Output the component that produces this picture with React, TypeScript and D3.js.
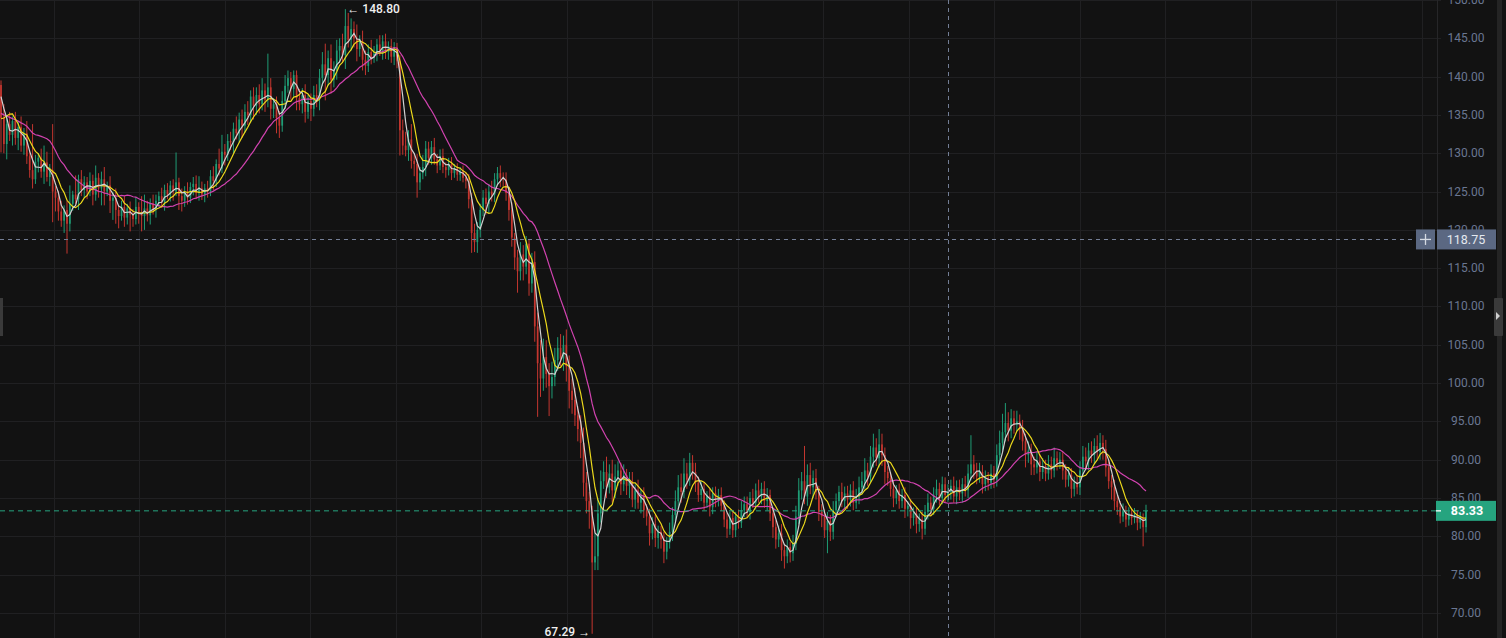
import React from "react";
import * as d3 from "d3";

const W = 1506;
const H = 638;

// closes before the first visible bar (only feed the moving averages)
const warmupCloses = [
  137.0, 136.2, 137.4, 135.6, 136.8, 135.8, 136.4, 135.2, 136.6, 136.0,
  133.8, 131.2, 130.4, 131.6, 130.5, 134.0, 137.4, 138.6, 138.9,
];

const closes = [
  134.6, 131.2, 133.8, 132.4, 134.2, 132.0, 133.4, 131.0, 132.6, 129.6,
  127.8, 126.6, 128.9, 129.4, 127.6, 128.8, 126.9, 127.8, 125.0, 124.2,
  122.4, 121.2, 122.6, 120.8, 123.4, 124.6, 124.0, 126.6, 125.2, 126.2,
  125.0, 126.4, 124.6, 126.8, 125.4, 126.6, 125.0, 125.8, 123.8, 124.2,
  122.6, 121.8, 123.0, 121.6, 122.8, 122.0, 121.4, 123.0, 122.2, 121.8,
  122.8, 121.9, 123.4, 122.6, 123.8, 124.4, 123.6, 125.2, 124.6, 125.8,
  125.0, 126.2, 124.4, 123.8, 125.0, 124.2, 125.6, 126.0, 124.8, 125.4,
  124.6, 125.4, 125.0, 127.0, 126.4, 128.6, 128.0, 130.2, 129.8, 131.6,
  131.4, 133.2, 132.6, 134.4, 133.6, 135.4, 135.0, 137.4, 136.2, 137.6,
  136.4, 138.2, 137.0, 138.6, 135.8, 136.4, 134.6, 133.6, 136.8, 138.8,
  139.8, 138.4, 140.2, 137.2, 136.4, 137.6, 135.4, 136.8, 135.8, 137.6,
  137.2, 139.8, 141.6, 140.2, 142.4, 139.6, 140.8, 143.4, 144.0, 142.8,
  146.6, 144.8, 146.2, 145.0, 143.6, 144.6, 142.2, 141.4, 143.2, 142.6,
  143.0, 144.2, 143.4, 144.6, 143.2, 144.0, 142.6, 143.8, 142.0, 133.0,
  131.0, 130.4, 131.8, 129.0, 128.6, 126.2, 127.4, 128.2, 130.6, 129.4,
  130.8, 129.2, 128.4, 129.6, 128.2, 127.8, 128.6, 127.4, 128.0, 127.2,
  127.6, 126.8, 126.4, 124.0, 119.6, 118.4, 120.0, 122.6, 124.2, 123.4,
  125.0, 124.6, 126.6, 127.4, 126.8, 126.6, 124.8, 122.6, 119.0, 116.4,
  114.6, 116.8, 115.2, 118.2, 113.0, 115.8, 107.4, 102.6, 100.6, 103.4,
  101.2, 99.6, 100.8, 103.0, 104.6, 103.2, 105.0, 102.2, 99.0, 97.8,
  95.8, 94.0, 92.2, 87.0, 84.6, 83.2, 76.6, 77.4, 83.0, 87.2,
  88.4, 86.4, 88.2, 86.0, 87.8, 88.6, 86.8, 88.0, 86.6, 87.2,
  84.8, 86.0, 84.4, 85.2, 83.4, 82.6, 80.4, 81.6, 79.8, 80.6,
  79.6, 78.0, 79.2, 80.6, 82.8, 84.6, 86.4, 85.8, 88.2, 87.4,
  89.6, 88.4, 87.0, 85.4, 86.2, 84.4, 85.2, 83.8, 85.6, 84.8,
  85.4, 84.0, 82.2, 81.0, 82.4, 80.8, 82.6, 81.8, 83.4, 84.2,
  83.2, 85.0, 84.4, 86.0, 85.2, 86.2, 84.6, 85.4, 83.0, 81.2,
  79.6, 80.4, 78.2, 77.4, 78.6, 77.8, 79.0, 82.6, 86.0, 87.2,
  85.2, 88.0, 86.4, 87.6, 85.8, 83.2, 82.6, 80.8, 82.0, 80.6,
  83.4, 84.6, 85.8, 84.6, 85.6, 84.8, 86.0, 84.4, 85.2, 86.4,
  87.2, 88.6, 87.8, 90.4, 91.6, 90.2, 92.0, 90.6, 88.4, 87.6,
  86.2, 85.0, 86.0, 84.6, 85.4, 83.6, 84.0, 82.4, 83.0, 81.6,
  82.2, 81.0, 83.2, 84.4, 83.6, 85.4, 86.2, 85.0, 86.8, 85.4,
  85.8, 86.6, 85.2, 86.4, 85.6, 86.8, 86.0, 88.2, 89.4, 88.6,
  87.8, 88.4, 86.8, 87.6, 87.0, 88.2, 87.4, 90.6, 92.2, 93.6,
  94.8, 93.8, 95.4, 94.6, 95.0, 94.0, 92.4, 90.6, 91.2, 89.4,
  89.0, 89.8, 88.4, 89.2, 88.2, 89.4, 88.6, 90.2, 89.6, 90.0,
  88.6, 87.4, 88.0, 86.2, 87.0, 86.4, 88.6, 90.4, 89.8, 91.2,
  90.6, 91.8, 91.0, 92.2, 91.4, 89.0, 87.2, 86.4, 84.6, 83.8,
  82.6, 83.4, 82.2, 83.0, 82.4, 82.8, 81.8, 82.4, 81.2, 83.33,
];

const upperWicks = [
  0.6, 1.8, 0.8, 1.6, 0.6, 1.2, 0.8, 1.4, 0.7, 1.6,
  0.8, 6.0, 0.9, 0.6, 1.2, 2.2, 1.4, 0.8, 6.0, 0.7,
  0.9, 1.4, 0.6, 1.2, 2.4, 0.5, 2.5, 0.6, 1.2, 0.8,
  0.7, 1.1, 0.8, 1.6, 0.6, 1.0, 1.6, 0.5, 1.2, 0.8,
  1.2, 0.6, 0.8, 1.4, 0.6, 0.9, 0.7, 1.3, 0.6, 2.2,
  1.8, 1.0, 0.7, 1.2, 0.8, 0.6, 1.1, 0.7, 0.9, 0.6,
  0.8, 3.9, 0.6, 1.0, 0.7, 1.2, 0.6, 0.9, 1.1, 1.6,
  0.9, 0.6, 1.0, 0.8, 1.3, 0.6, 2.0, 2.2, 1.0, 0.9,
  1.2, 0.8, 1.6, 0.9, 1.3, 1.0, 1.4, 0.8, 1.2, 1.0,
  1.4, 1.6, 0.9, 4.4, 1.2, 0.8, 1.0, 0.9, 1.3, 1.4,
  1.0, 0.8, 0.6, 0.6, 1.2, 0.9, 1.4, 0.8, 1.0, 1.2,
  1.4, 1.2, 1.6, 2.7, 1.0, 1.8, 1.2, 1.4, 1.0, 1.6,
  2.2, 1.7, 1.4, 1.0, 1.8, 0.8, 1.4, 1.2, 1.0, 1.6,
  1.0, 0.7, 1.2, 0.8, 1.0, 0.6, 0.9, 0.7, 0.6, 0.8,
  1.4, 1.8, 1.2, 2.0, 1.0, 1.3, 0.8, 1.6, 1.0, 0.9,
  0.8, 1.2, 0.7, 0.9, 1.0, 0.6, 0.8, 0.9, 0.6, 0.7,
  0.6, 0.8, 0.7, 0.9, 0.8, 1.2, 1.0, 0.8, 1.0, 1.2,
  1.0, 1.4, 0.8, 0.8, 1.0, 0.7, 0.9, 0.8, 1.0, 0.6,
  1.0, 1.6, 1.2, 1.0, 0.6, 1.2, 1.4, 1.8, 3.0, 2.4,
  2.2, 1.4, 2.0, 1.6, 1.4, 1.8, 1.2, 2.0, 1.4, 1.6,
  1.6, 1.2, 1.8, 2.0, 1.4, 1.2, 0.8, 3.0, 2.0, 1.4,
  1.4, 2.0, 1.2, 1.8, 1.6, 1.2, 1.0, 1.4, 0.8, 1.2,
  1.2, 0.8, 1.4, 1.0, 1.2, 0.8, 1.0, 0.9, 1.2, 0.8,
  0.8, 1.0, 0.7, 1.2, 1.0, 1.4, 1.6, 1.8, 2.0, 1.4,
  1.3, 1.0, 1.2, 0.8, 1.0, 0.9, 0.7, 1.0, 0.8, 0.9,
  0.8, 1.0, 0.7, 0.9, 0.8, 1.0, 0.6, 0.9, 1.2, 1.0,
  1.0, 0.8, 1.2, 0.9, 1.4, 0.8, 1.0, 0.9, 0.7, 0.8,
  0.9, 1.0, 1.2, 0.8, 1.0, 0.7, 1.2, 1.4, 1.6, 1.2,
  4.6, 1.4, 1.6, 1.0, 1.2, 0.8, 1.0, 0.9, 1.2, 0.8,
  1.2, 1.0, 0.8, 1.2, 0.9, 1.0, 0.8, 1.2, 1.0, 1.4,
  1.2, 1.6, 1.0, 1.4, 1.8, 1.2, 2.0, 1.4, 1.0, 0.8,
  0.8, 1.0, 0.7, 0.9, 0.8, 1.0, 0.6, 0.9, 0.8, 0.7,
  0.8, 1.0, 0.9, 1.2, 0.8, 1.0, 1.2, 0.8, 1.0, 0.9,
  1.0, 0.8, 1.2, 0.9, 1.0, 0.8, 1.1, 1.2, 3.8, 1.2,
  1.0, 1.2, 0.9, 1.0, 0.8, 1.2, 1.0, 1.4, 1.6, 2.4,
  2.6, 1.4, 1.2, 1.0, 1.4, 0.9, 1.2, 1.0, 1.2, 0.9,
  1.0, 1.2, 0.9, 1.0, 0.8, 1.2, 1.0, 1.4, 0.9, 1.0,
  1.0, 0.8, 1.0, 0.9, 0.8, 1.0, 1.2, 1.4, 1.2, 1.0,
  1.2, 1.0, 1.4, 1.3, 1.0, 1.2, 1.0, 0.8, 1.0, 0.8,
  0.8, 0.9, 0.6, 0.8, 0.7, 0.9, 0.6, 0.8, 0.6, 0.8,
];

const lowerWicks = [
  4.5, 1.2, 2.0, 0.8, 1.4, 0.9, 1.6, 0.8, 1.2, 1.0,
  1.0, 1.2, 0.6, 1.4, 0.8, 1.6, 0.6, 1.2, 4.0, 1.8,
  1.2, 0.8, 1.6, 3.9, 1.0, 0.9, 0.6, 1.4, 0.8, 1.0,
  1.0, 0.6, 1.4, 0.8, 1.2, 2.2, 1.8, 0.6, 1.6, 2.5,
  1.8, 1.6, 0.6, 1.2, 0.9, 2.2, 1.0, 0.7, 1.4, 2.0,
  1.8, 0.8, 1.2, 0.6, 1.0, 0.8, 0.7, 1.1, 0.6, 0.9,
  1.2, 0.6, 1.8, 1.4, 0.8, 0.9, 0.7, 1.1, 0.8, 1.0,
  0.7, 1.0, 0.8, 0.6, 1.2, 0.8, 0.9, 0.6, 1.4, 0.8,
  1.0, 1.4, 0.8, 1.2, 1.6, 0.9, 1.3, 1.0, 1.8, 1.2,
  1.2, 0.8, 1.6, 1.0, 1.4, 1.2, 2.0, 1.6, 0.8, 1.0,
  0.9, 1.4, 1.0, 1.6, 0.8, 1.2, 1.4, 0.9, 1.6, 1.0,
  1.2, 1.6, 1.0, 3.3, 1.4, 1.8, 1.0, 1.2, 1.6, 1.0,
  1.8, 1.0, 1.4, 1.2, 1.6, 1.0, 1.4, 1.2, 0.8, 1.0,
  0.8, 1.0, 0.7, 1.2, 0.9, 1.0, 0.8, 1.1, 0.9, 3.3,
  1.2, 0.8, 1.4, 1.0, 1.6, 2.0, 1.0, 0.8, 1.2, 0.9,
  0.9, 0.7, 1.0, 0.6, 0.8, 1.0, 0.7, 0.9, 0.6, 0.8,
  0.8, 0.6, 1.0, 1.2, 2.6, 1.3, 1.4, 1.0, 0.8, 1.4,
  1.2, 0.9, 1.0, 0.8, 1.2, 0.9, 1.0, 1.4, 1.2, 1.6,
  2.8, 1.2, 1.8, 1.0, 1.6, 1.2, 2.0, 7.0, 2.4, 1.6,
  1.8, 3.9, 1.6, 1.2, 1.4, 1.0, 1.6, 2.0, 2.3, 1.8,
  1.4, 1.6, 2.0, 1.8, 1.6, 2.2, 9.31, 1.0, 1.8, 1.2,
  1.0, 1.4, 0.8, 1.6, 1.0, 1.2, 1.4, 0.9, 1.2, 1.6,
  1.0, 1.2, 0.8, 1.4, 1.0, 1.2, 1.6, 0.8, 1.2, 1.4,
  1.2, 1.5, 1.0, 0.8, 1.2, 0.9, 1.0, 1.4, 0.8, 1.2,
  0.8, 1.0, 1.2, 0.9, 0.8, 1.0, 0.7, 1.2, 0.9, 1.0,
  0.9, 0.7, 1.0, 1.2, 0.8, 1.0, 0.9, 0.8, 0.7, 0.9,
  0.8, 1.0, 0.7, 0.9, 0.8, 1.0, 0.9, 1.2, 1.0, 1.4,
  1.2, 1.0, 1.4, 1.6, 0.9, 1.2, 1.0, 0.8, 1.0, 1.2,
  1.0, 1.2, 0.9, 1.4, 1.0, 1.2, 1.4, 1.0, 3.0, 1.2,
  1.0, 0.9, 1.2, 0.8, 1.0, 1.2, 0.9, 1.0, 0.8, 1.0,
  0.9, 1.0, 1.2, 0.8, 1.4, 1.0, 1.2, 1.4, 1.6, 1.0,
  1.0, 1.2, 0.8, 1.0, 0.9, 1.2, 1.0, 1.4, 1.0, 1.2,
  1.0, 1.4, 0.8, 1.0, 0.9, 0.8, 1.0, 0.9, 0.8, 1.0,
  0.9, 1.0, 0.8, 1.0, 0.9, 1.2, 0.8, 1.0, 0.9, 1.1,
  1.0, 0.8, 1.2, 0.9, 1.0, 0.8, 1.1, 0.9, 1.2, 1.0,
  1.2, 1.4, 1.0, 1.2, 0.9, 1.4, 1.2, 1.6, 1.0, 1.4,
  1.0, 0.8, 1.2, 0.9, 1.0, 0.8, 1.1, 0.9, 1.0, 0.8,
  1.2, 1.0, 0.9, 1.2, 1.0, 0.9, 1.0, 0.8, 1.0, 1.2,
  1.0, 1.2, 0.9, 1.0, 1.4, 1.2, 1.0, 1.6, 1.2, 1.0,
  0.9, 0.7, 1.0, 0.8, 0.9, 0.7, 1.0, 0.8, 2.5, 0.7,
];

const priceTicks = [70, 75, 80, 85, 90, 95, 100, 105, 110, 115, 120, 125, 130, 135, 140, 145, 150];
const maPeriods = [4, 8, 21];
const maColors = ["#d2d2d2", "#ecd91c", "#d243b0"];
const crosshairPrice = 118.75;
const crosshairBar = 330;
const lastPrice = 83.33;
const gridStartBar = 18.3;
const gridEveryBars = 29.8;

const BG = "#121212";
const GRID = "#202022";
const UP = "#1f9c75";
const DOWN = "#c4362f";
const AXIS_TEXT = "#6a7792";
const FONT = "Roboto, 'Noto Sans', sans-serif";

export default function App() {
  const plotRight = 1437;
  const x = d3.scaleLinear().domain([0, closes.length - 1]).range([1, 1146]);
  const y = d3.scaleLinear().domain([70, 145]).range([613, 38.3]);

  const all = [...warmupCloses, ...closes];
  const off = warmupCloses.length;
  const candles = closes.map((c, i) => {
    const o = all[off + i - 1];
    return {
      i,
      o,
      c,
      h: Math.max(o, c) + upperWicks[i],
      l: Math.min(o, c) - lowerWicks[i],
    };
  });

  const mas = maPeriods.map((p) =>
    closes.map((_, i) => {
      const k = off + i;
      return d3.mean(all.slice(Math.max(0, k - p + 1), k + 1)) as number;
    })
  );
  const line = d3
    .line<number>()
    .x((_, i) => x(i))
    .y((v) => y(v));

  const hiC = candles.reduce((a, b) => (b.h > a.h ? b : a));
  const loC = candles.reduce((a, b) => (b.l < a.l ? b : a));

  const gridXs: number[] = [];
  for (let g = gridStartBar; x(g) < plotRight - 5; g += gridEveryBars) gridXs.push(x(g));

  const bodyW = 1.7;
  const cx = x(crosshairBar);
  const cy = y(crosshairPrice);
  const ly = y(lastPrice);

  return (
    <svg
      width={W}
      height={H}
      style={{ position: "fixed", left: 0, top: 0, display: "block" }}
      fontFamily={FONT}
    >
      <rect x={0} y={0} width={W} height={H} fill={BG} />
      <defs>
        <clipPath id="plot">
          <rect x={0} y={0} width={plotRight} height={H} />
        </clipPath>
      </defs>
      {/* grid */}
      {priceTicks.map((t) => (
        <line key={"h" + t} x1={0} x2={plotRight + 4} y1={Math.round(y(t)) + 0.5} y2={Math.round(y(t)) + 0.5} stroke={GRID} />
      ))}
      {gridXs.map((gx, k) => (
        <line key={"v" + k} x1={Math.round(gx) + 0.5} x2={Math.round(gx) + 0.5} y1={0} y2={H} stroke={GRID} />
      ))}
      <g clipPath="url(#plot)">
        {candles.map((d) => {
          const col = d.c >= d.o ? UP : DOWN;
          const px = x(d.i);
          const top = y(Math.max(d.o, d.c));
          const bot = y(Math.min(d.o, d.c));
          return (
            <g key={d.i}>
              <line x1={px} x2={px} y1={y(d.h)} y2={y(d.l)} stroke={col} strokeWidth={1} />
              <rect x={px - bodyW / 2} y={top} width={bodyW} height={Math.max(1, bot - top)} fill={col} />
            </g>
          );
        })}
        {mas
          .slice()
          .reverse()
          .map((m, k) => (
            <path
              key={k}
              d={line(m) || ""}
              fill="none"
              stroke={maColors[maColors.length - 1 - k]}
              strokeWidth={1.2}
            />
          ))}
        {/* last price line */}
        <line x1={0} x2={plotRight} y1={ly} y2={ly} stroke="#26a47f" strokeDasharray="5 4" />
        {/* crosshair */}
        <line x1={0} x2={1416} y1={Math.round(cy) + 0.5} y2={Math.round(cy) + 0.5} stroke="#737e95" strokeDasharray="4 4" />
        <line x1={Math.round(cx) + 0.5} x2={Math.round(cx) + 0.5} y1={0} y2={H} stroke="#737e95" strokeDasharray="4 4" />
      </g>

      {/* high / low markers */}
      <text x={x(hiC.i) + 2} y={y(hiC.h) + 4} fill="#f0f0f0" fontSize={12} fontWeight={500}>
        {"← " + hiC.h.toFixed(2)}
      </text>
      <text x={x(loC.i) - 2} y={y(loC.l) + 2} fill="#f0f0f0" fontSize={12} fontWeight={500} textAnchor="end">
        {loC.l.toFixed(2) + " →"}
      </text>

      {/* price axis */}
      <line x1={plotRight + 0.5} x2={plotRight + 0.5} y1={0} y2={H} stroke="#262628" />
      {priceTicks.map((t) => (
        <text key={"t" + t} x={1466} y={y(t) + 4} fill={AXIS_TEXT} fontSize={12} textAnchor="middle">
          {t.toFixed(2)}
        </text>
      ))}

      {/* crosshair price label */}
      <rect x={1416} y={cy - 10} width={19} height={20} fill="#5b6882" />
      <line x1={1420} x2={1431} y1={cy} y2={cy} stroke="#d5dae3" strokeWidth={1.3} />
      <line x1={1425.5} x2={1425.5} y1={cy - 5.5} y2={cy + 5.5} stroke="#d5dae3" strokeWidth={1.3} />
      <rect x={1437} y={cy - 10} width={59} height={20} fill="#5b6882" />
      <text x={1466} y={cy + 4.5} fill="#e4e8ef" fontSize={12.5} textAnchor="middle">
        {crosshairPrice.toFixed(2)}
      </text>

      {/* last price label */}
      <rect x={1436} y={ly - 10} width={60} height={20} fill="#26a47f" />
      <line x1={1436} x2={1441} y1={ly} y2={ly} stroke="#ffffff" strokeWidth={1.3} />
      <text x={1467} y={ly + 4.5} fill="#ffffff" fontSize={12.5} fontWeight={700} textAnchor="middle">
        {lastPrice.toFixed(2)}
      </text>

      {/* scroll handles */}
      <rect x={1497} y={0} width={5} height={H} fill="#242424" />
      <rect x={1494} y={298} width={9} height={38} rx={1} fill="#3a3a3a" />
      <path d="M1496,312 L1496,320 L1500,316 Z" fill="#d0d0d0" />
      <rect x={0} y={298} width={3} height={38} fill="#3a3a3a" />
    </svg>
  );
}
